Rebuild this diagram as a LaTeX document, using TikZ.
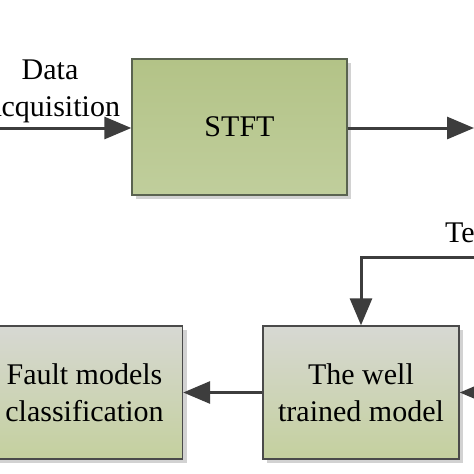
\documentclass[tikz,border=0pt]{standalone}
\usepackage{fontspec}
\setmainfont{Liberation Serif}
\usetikzlibrary{arrows.meta,shadows}
\definecolor{linec}{HTML}{3D3D3D}
\definecolor{stfttop}{HTML}{B3C387}
\definecolor{stftbot}{HTML}{C0CE9C}
\definecolor{boxtop}{HTML}{D7D8D3}
\definecolor{boxbot}{HTML}{C4D09E}
\definecolor{stftedge}{HTML}{5A6350}
\definecolor{boxedge}{HTML}{4A4A4A}
\definecolor{shadowc}{HTML}{D2D2D2}
\begin{document}
\begin{tikzpicture}[x=1pt,y=-1pt,
  txt/.style={font=\fontsize{30}{37}\selectfont, align=center, inner sep=0pt},
  blockbase/.style={txt, line width=1.4pt, minimum height=133pt,
    drop shadow={shadow xshift=4pt, shadow yshift=-4pt, fill=shadowc, opacity=1}},
  stftbox/.style={blockbase, draw=stftedge, top color=stfttop, bottom color=stftbot,
    minimum width=215pt, minimum height=136pt},
  greybox/.style={blockbase, draw=boxedge, top color=boxtop, bottom color=boxbot,
    minimum width=196pt},
  conn/.style={draw=linec, line width=3pt, -{Triangle[length=27pt,width=22pt]}}]
\useasboundingbox (0,0) rectangle (474,474);
\clip (0,0) rectangle (474,474);
\fill[white] (0,0) rectangle (474,474);

\node[stftbox] (stft) at (239.5,127) {STFT};
\node[greybox] (well) at (361,392.5) {The well\\trained model};
\node[greybox] (fault) at (84.5,392.5) {Fault models\\classification};

\node[txt] (acq) at (50,91) {Data\\Acquisition};
\node[txt, anchor=base west] (test) at (445,242) {Te};

\coordinate (in) at (-10,128);
\coordinate (out) at (474,128);
\coordinate (tin) at (490,257);
\coordinate (rin) at (490,392.5);

\draw[conn] (in) -- (in -| stft.west);
\draw[conn] (stft.east |- out) -- (out);
\draw[conn] (tin) -| (well.north);
\draw[conn] (rin) -- (well.east);
\draw[conn] (well.west) -- (fault.east);
\end{tikzpicture}
\end{document}
